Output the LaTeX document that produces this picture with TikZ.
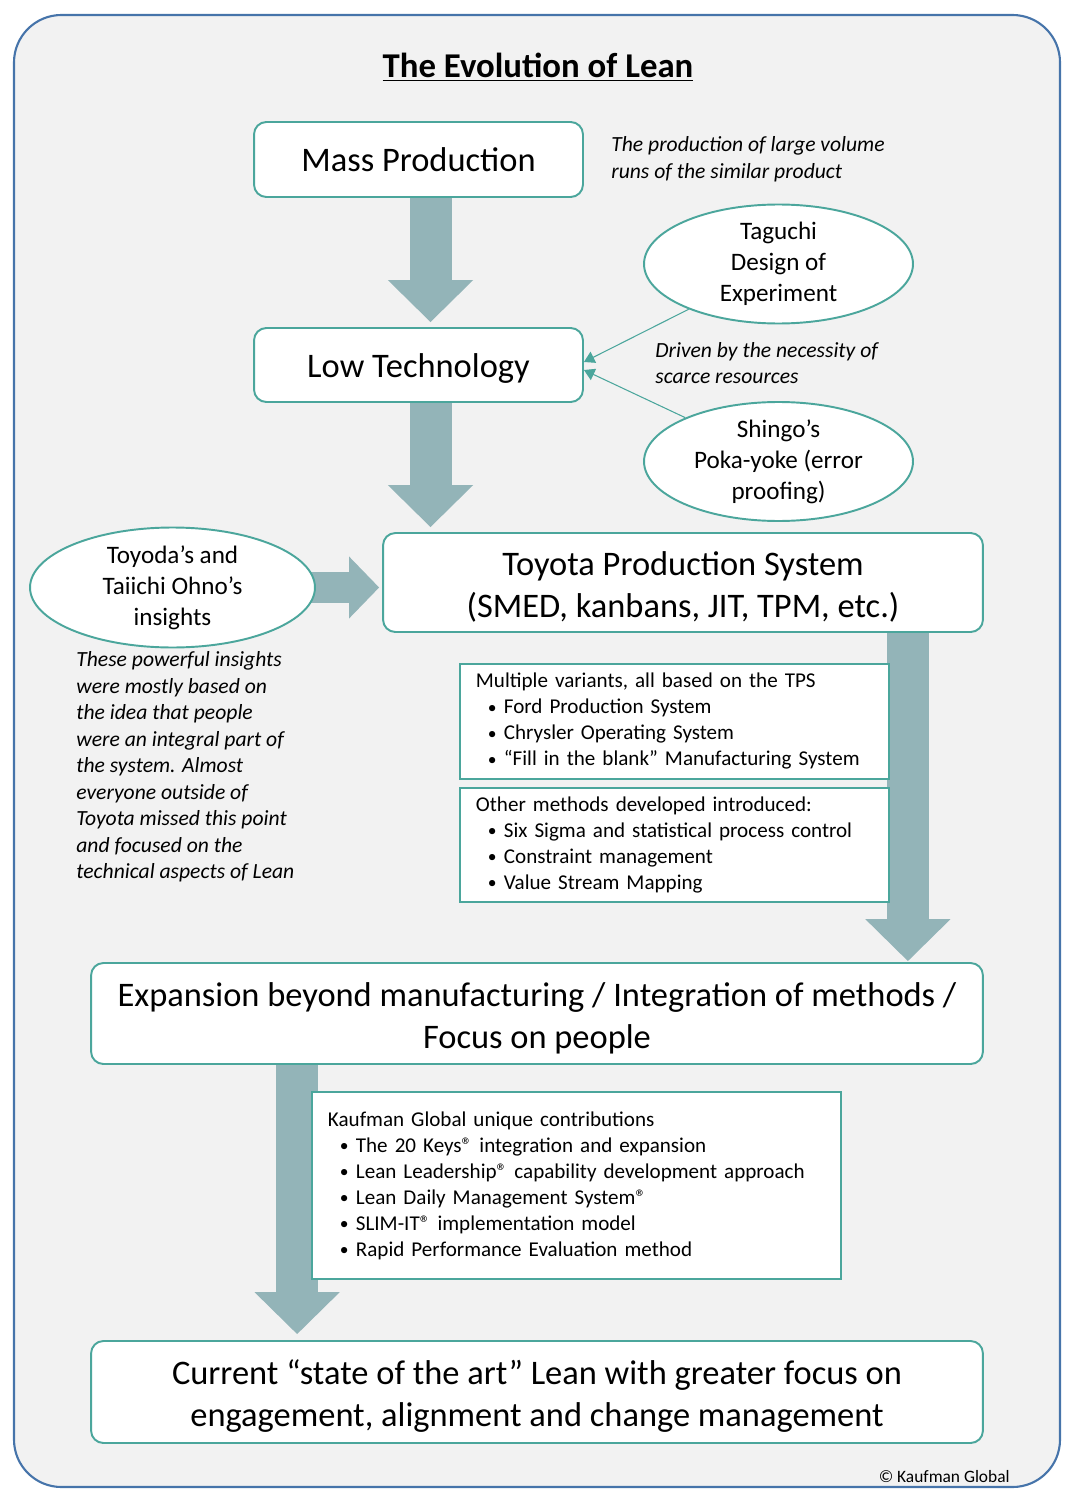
\documentclass[tikz,border=0pt]{standalone}
\usepackage{fontspec}
\setmainfont{Carlito}
\usetikzlibrary{shapes.geometric,arrows.meta,calc}
\definecolor{boxline}{RGB}{75,166,156}
\definecolor{flow}{RGB}{147,180,184}
\definecolor{framebg}{RGB}{242,242,242}
\definecolor{frameline}{RGB}{70,116,170}
\pgfdeclarelayer{bg}
\pgfdeclarelayer{back}
\pgfsetlayers{bg,back,main}
\newcommand{\itm}[1]{\\\hspace*{6.8pt}\makebox[9.1pt][l]{\raisebox{0.3pt}{\fontsize{10}{10}\selectfont\textbullet}}#1}
\newcommand{\reg}{®}
\begin{document}
\begin{tikzpicture}[x=0.02cm, y=-0.02cm,
	roundbox/.style={draw=boxline, fill=white, line width=1.1pt, rounded corners=7pt, align=center, inner sep=0pt, font=\fontsize{19.6}{23.9}\selectfont},
	onebox/.style={roundbox, text height=18.5pt, text depth=4.5pt},
	twobox/.style={roundbox, execute at begin node={\rule{0pt}{42.5pt}}},
	oval/.style={ellipse, draw=boxline, fill=white, line width=1.1pt, align=center, inner sep=-12pt, minimum width=5.38cm, minimum height=2.38cm, font=\fontsize{14.3}{17.6}\selectfont},
	listbox/.style={draw=boxline, fill=white, line width=1.1pt, anchor=north west, align=left, inner xsep=0.32cm, inner ysep=0pt, font=\fontsize{12}{14.8}\selectfont},
	note/.style={anchor=west, align=left, inner sep=0pt, font=\fontsize{12.3}{15.1}\selectfont\itshape},
	bigarrow/.style={draw=flow, line width=23.9pt, -{Triangle[width=48.4pt, length=23.8pt, line width=0pt]}},
	sidearrow/.style={draw=flow, line width=18.2pt, -{Triangle[width=35.3pt, length=17.1pt, line width=0pt]}},
	link/.style={draw=boxline, line width=0.6pt, -{Triangle[length=6pt, width=7pt]}}
]

	% Frame
	\useasboundingbox (0,0) rectangle (1078,1500);
	\begin{pgfonlayer}{bg}
		\draw[frameline, line width=1.2pt, fill=framebg, rounded corners=27pt] (14,15) rectangle (1060,1487);
	\end{pgfonlayer}

	% Title
	\node[font=\fontsize{19.8}{23}\selectfont\bfseries] (title) at (538,67) {\underline{The Evolution of Lean}};

	% Main boxes
	\node[onebox, minimum width=6.58cm, minimum height=1.5cm] (mass) at (418.5,159.5) {Mass Production};
	\node[onebox, minimum width=6.58cm, minimum height=1.48cm] (lowtech) at (418.5,365) {Low Technology};
	\node[twobox, minimum width=12cm, minimum height=1.98cm] (tps) at (683,582.5) {Toyota Production System\\(SMED, kanbans, JIT, TPM, etc.)};
	\node[twobox, minimum width=17.84cm, minimum height=2.02cm] (expand) at (537,1013.5) {Expansion beyond manufacturing / Integration of methods /\\Focus on people};
	\node[twobox, minimum width=17.84cm, minimum height=2.04cm] (current) at (537,1392) {Current “state of the art” Lean with greater focus on\\engagement, alignment and change management};

	% Ovals
	\node[oval] (taguchi) at (778.5,264) {Taguchi\\Design of\\Experiment};
	\node[oval] (shingo) at (778.5,461.5) {Shingo’s\\Poka-yoke (error\\proofing)};
	\node[oval, minimum width=5.7cm, minimum height=2.4cm] (toyoda) at (172.5,587.5) {Toyoda’s and\\Taiichi Ohno’s\\insights};

	% Lists
	\node[listbox, text width=7.94cm, minimum height=2.3cm] (variants) at (459,663) {Multiple variants, all based on the TPS\itm{Ford Production System}\itm{Chrysler Operating System}\itm{“Fill in the blank” Manufacturing System}};
	\node[listbox, text width=7.94cm, minimum height=2.28cm] (methods) at (459,787) {Other methods developed introduced:\itm{Six Sigma and statistical process control}\itm{Constraint management}\itm{Value Stream Mapping}};
	\node[listbox, text width=9.94cm, minimum height=3.74cm] (kaufman) at (311,1091) {Kaufman Global unique contributions\itm{The 20 Keys\reg{} integration and expansion}\itm{Lean Leadership\reg{} capability development approach}\itm{Lean Daily Management System\reg}\itm{SLIM-IT\reg{} implementation model}\itm{Rapid Performance Evaluation method}};

	% Notes
	\node[note] (massnote) at (611,159) {The production of large volume\\runs of the similar product};
	\node[note] (drivennote) at (655,363) {Driven by the necessity of\\scarce resources};
	\node[note] (toyodanote) at (76,767) {These powerful insights\\were mostly based on\\the idea that people\\were an integral part of\\the system. Almost\\everyone outside of\\Toyota missed this point\\and focused on the\\technical aspects of Lean};
	\node[anchor=east, inner sep=0pt, font=\fontsize{9.9}{11}\selectfont] (copy) at (1010,1477) {© Kaufman Global};

	% Flow arrows
	\begin{pgfonlayer}{back}
		\draw[bigarrow] ($(mass.south)+(12,0)$) -- ($(lowtech.north)+(12,-5)$);
		\draw[bigarrow] ($(lowtech.south)+(12,0)$) -- ($(lowtech.south |- tps.north)+(12,-5)$);
		\draw[bigarrow] ($(tps.south east)+(-76,0)$) -- ($(tps.south east |- expand.north)+(-76,-1)$);
		\draw[bigarrow] ($(expand.south west)+(207,0)$) -- ($(expand.south west |- current.north)+(207,-6)$);
		\draw[sidearrow] ($(toyoda.east)+(-10,0)$) -- ($(tps.west |- toyoda.east)+(-3,0)$);
	\end{pgfonlayer}

	% Links
	\draw[link] (taguchi) -- ($(lowtech.east)+(0,-3)$);
	\draw[link] (shingo) -- ($(lowtech.east)+(0,5)$);

\end{tikzpicture}
\end{document}
